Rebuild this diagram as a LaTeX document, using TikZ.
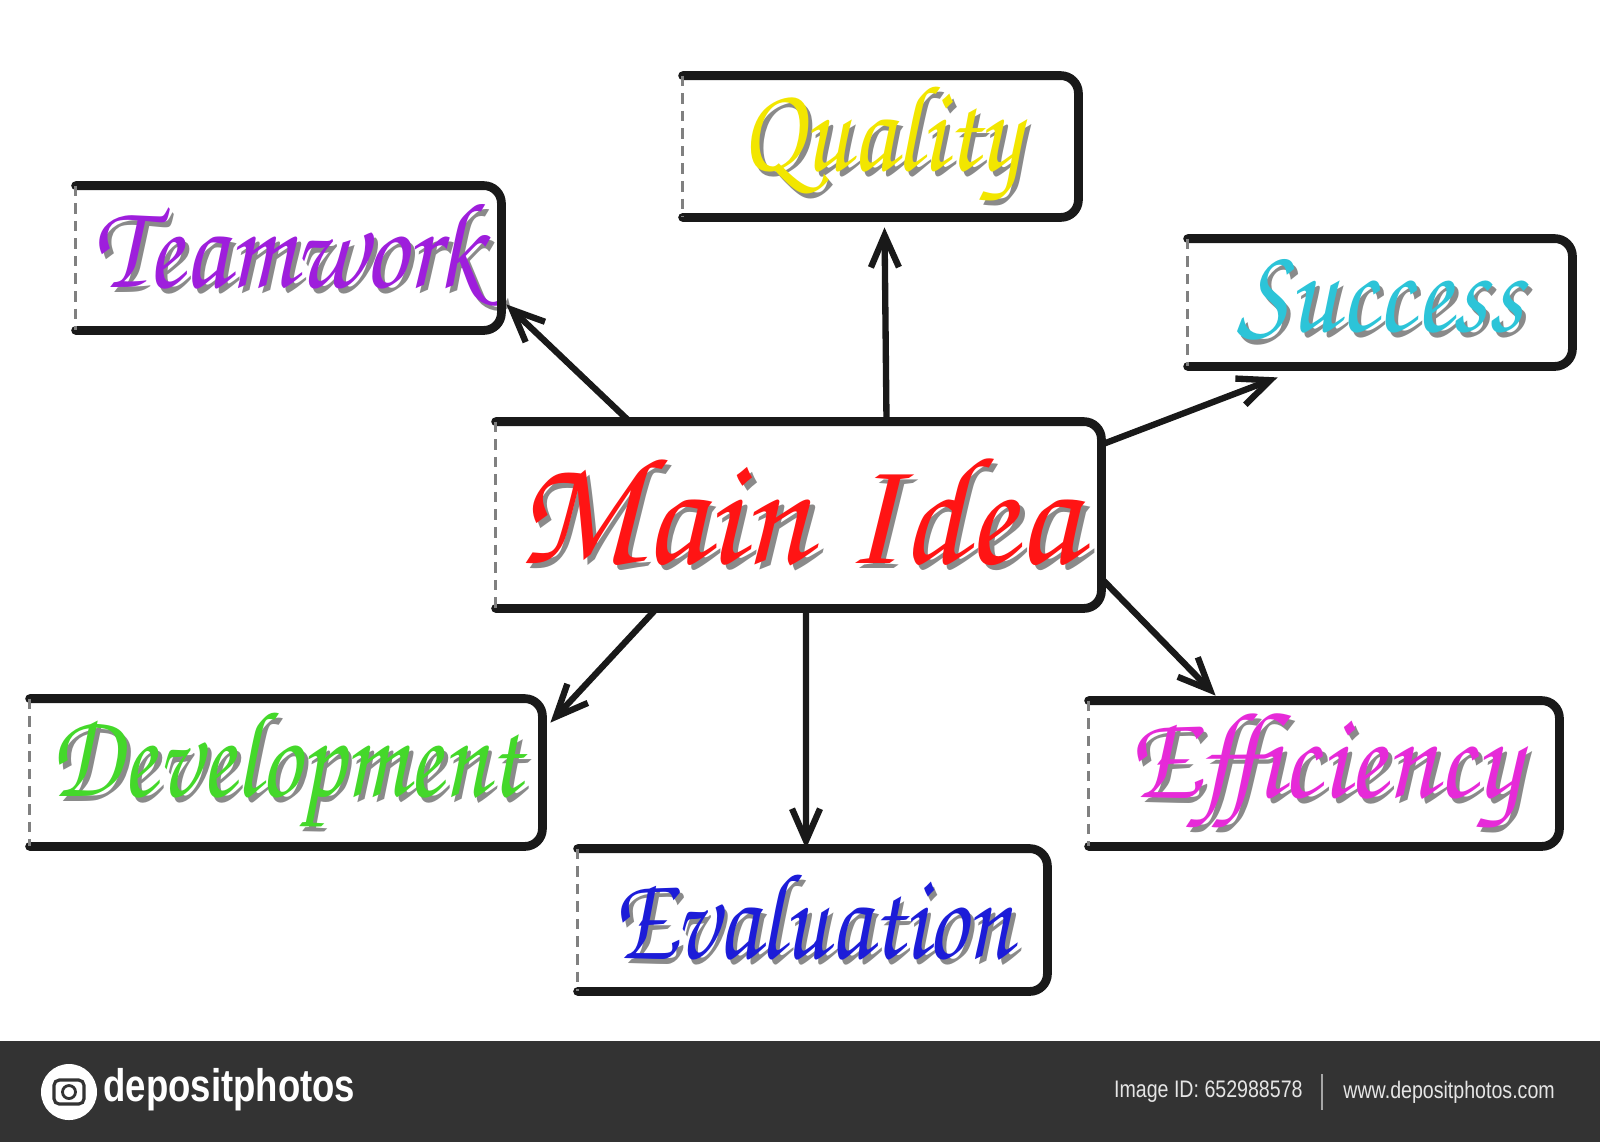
\documentclass[tikz,border=0pt]{standalone}
\usepackage{fontspec}
\usepackage{graphicx}
\usepackage{xcolor}
\usetikzlibrary{positioning,arrows.meta,calc}
\setmainfont{Liberation Sans}
\newfontfamily\scriptfam{TeX Gyre Chorus}

\definecolor{mainred}{HTML}{FF1414}
\definecolor{qualyellow}{HTML}{F2E600}
\definecolor{teampurple}{HTML}{9E1EDC}
\definecolor{succcyan}{HTML}{2CC4D8}
\definecolor{devgreen}{HTML}{44D82A}
\definecolor{effmagenta}{HTML}{E62AD8}
\definecolor{evalblue}{HTML}{1C1CD8}
\definecolor{shadowgray}{HTML}{8A8A8A}
\definecolor{barbg}{HTML}{333333}

% text with a grey drop shadow, stretched to a given width
\newcommand{\shlabel}[3]{%
  \resizebox{#2}{\height}{\makebox[0pt][l]{\hspace{1.3pt}\raisebox{-1.3pt}{\color{shadowgray}#3}}{\color{#1}#3}}}

\begin{document}
\begin{tikzpicture}[>=stealth, thick,
  box/.style={inner sep=0pt, font=\scriptfam\fontsize{35}{40}\selectfont},
  brush/.style={line width=2.5pt, black!90, rounded corners=5pt, line cap=round},
  faint/.style={line width=0.8pt, black!50, dash pattern=on 3pt off 2pt},
  arr/.style={line width=1.8pt, black!90, -{Straight Barb[length=3.2mm,width=2.8mm]}}]

\useasboundingbox (0,0) rectangle (16,-11.42);

% boxes
\node[box, minimum width=6.03cm, minimum height=1.84cm, font=\scriptfam\fontsize{44}{48}\selectfont] (main) at (7.985,-5.15) {\shlabel{mainred}{5.62cm}{Main Idea}};
\node[box, minimum width=3.93cm, minimum height=1.39cm] (quality) at (8.805,-1.465) {\shlabel{qualyellow}{2.8cm}{Quality}};
\node[box, minimum width=4.23cm, minimum height=1.42cm] (teamwork) at (2.885,-2.58) {\shlabel{teampurple}{3.9cm}{Teamwork}};
\node[box, minimum width=3.82cm, minimum height=1.25cm] (success) at (13.80,-3.025) {\shlabel{succcyan}{2.85cm}{Success}};
\node[box, minimum width=5.10cm, minimum height=1.45cm] (development) at (2.86,-7.725) {\shlabel{devgreen}{4.7cm}{Development}};
\node[box, minimum width=4.68cm, minimum height=1.43cm] (efficiency) at (13.24,-7.735) {\shlabel{effmagenta}{3.93cm}{Efficiency}};
\node[box, minimum width=4.67cm, minimum height=1.40cm] (evaluation) at (8.125,-9.20) {\shlabel{evalblue}{4.0cm}{Evaluation}};

% rough frames
\foreach \n in {main,quality,teamwork,success,development,efficiency,evaluation}{
  \draw[brush] (\n.south west) -- (\n.south east) -- (\n.north east) -- (\n.north west);
  \draw[faint] (\n.north west) -- (\n.south west);
}

% arrows
\draw[arr] ([xshift=0.88cm]main.north) -- ([xshift=0.04cm,yshift=-0.1cm]quality.south);
\draw[arr] ([xshift=1.34cm]main.north west) -- ([xshift=0.05cm,yshift=0.26cm]teamwork.south east);
\draw[arr] ([yshift=-0.23cm]main.north east) -- ([xshift=0.9cm,yshift=-0.11cm]success.south west);
\draw[arr] ([xshift=1.61cm]main.south west) -- ([xshift=0.08cm,yshift=-0.24cm]development.north east);
\draw[arr] ([xshift=0.075cm]main.south) -- ([xshift=-0.065cm]evaluation.north);
\draw[arr] ([yshift=0.3cm]main.south east) -- ([xshift=1.27cm,yshift=0.05cm]efficiency.north west);

% bottom bar
\fill[barbg] (0,-10.41) rectangle (16,-11.42);
\node[circle, fill=white, minimum size=0.56cm, inner sep=0pt] (logo) at (0.69,-10.92) {};
\node[draw=barbg, line width=0.9pt, rounded corners=1.5pt, minimum width=0.3cm, minimum height=0.24cm, inner sep=0pt] (cam) at (logo) {};
\node[circle, draw=barbg, line width=0.8pt, minimum size=0.13cm, inner sep=0pt] (lens) at (logo) {};
\node[anchor=west, text=white, inner sep=0pt, font=\bfseries\fontsize{13}{15}\selectfont] (brand) at (1.02,-10.90) {\scalebox{0.8}[1]{depositphotos}};
\node[anchor=east, text=white!90!black, inner sep=0pt, font=\fontsize{6.8}{8}\selectfont] (imgid) at (13.04,-10.92) {\scalebox{0.82}[1]{Image ID: 652988578}};
\draw[gray!70, line width=0.4pt] (13.22,-10.74) -- (13.22,-11.10);
\node[anchor=west, text=white!90!black, inner sep=0pt, font=\fontsize{6.8}{8}\selectfont] (site) at (13.42,-10.92) {\scalebox{0.82}[1]{www.depositphotos.com}};

\end{tikzpicture}
\end{document}
